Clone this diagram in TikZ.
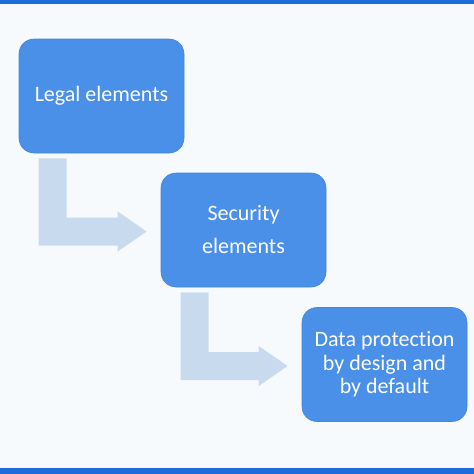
\documentclass[tikz,border=0pt]{standalone}
\usepackage{fontspec}
\setmainfont{Carlito}[Ligatures={NoCommon}]
\usetikzlibrary{calc}
\definecolor{bgcol}{RGB}{247,250,253}
\definecolor{barcol}{RGB}{30,107,219}
\definecolor{boxcol}{RGB}{74,143,232}
\definecolor{boxedge}{RGB}{66,134,226}
\definecolor{arrcol}{RGB}{200,218,238}
\newcommand{\larrowshape}[2]{%
  \fill[arrcol] let \p1=(#1.south west), \p2=(#2.west), \n1={\y2-1.5pt} in
    (\x1+20pt,\y1-5pt) -- (\x1+48pt,\y1-5pt) -- (\x1+48pt,\n1+14pt)
    -- (\x2-43pt,\n1+14pt) -- (\x2-43pt,\n1+20pt) -- (\x2-14pt,\n1)
    -- (\x2-43pt,\n1-20pt) -- (\x2-43pt,\n1-14pt) -- (\x1+20pt,\n1-14pt) -- cycle;}
\tikzset{
  stepbox/.style={draw=boxedge, line width=0.6pt, fill=boxcol, rounded corners=15pt,
    minimum width=165pt, minimum height=114pt, inner sep=0pt, align=center,
    text=white, font=\fontsize{22}{23.5}\selectfont}
}
\begin{document}
\begin{tikzpicture}[x=1pt,y=-1pt]
\useasboundingbox (0,0) rectangle (474,474);
\fill[bgcol] (0,0) rectangle (474,474);
\fill[barcol] (0,0) rectangle (474,4);
\fill[barcol] (0,468) rectangle (474,474);
\node[stepbox] (legal) at (101.5,96) {Legal elements};
\node[stepbox, font=\fontsize{22}{33}\selectfont] (sec) at (243.5,230) {Security\\elements};
\node[stepbox] (dp) at (384.5,364.5) {Data protection\\by design and\\by default};
\larrowshape{legal}{sec}
\larrowshape{sec}{dp}
\end{tikzpicture}
\end{document}
